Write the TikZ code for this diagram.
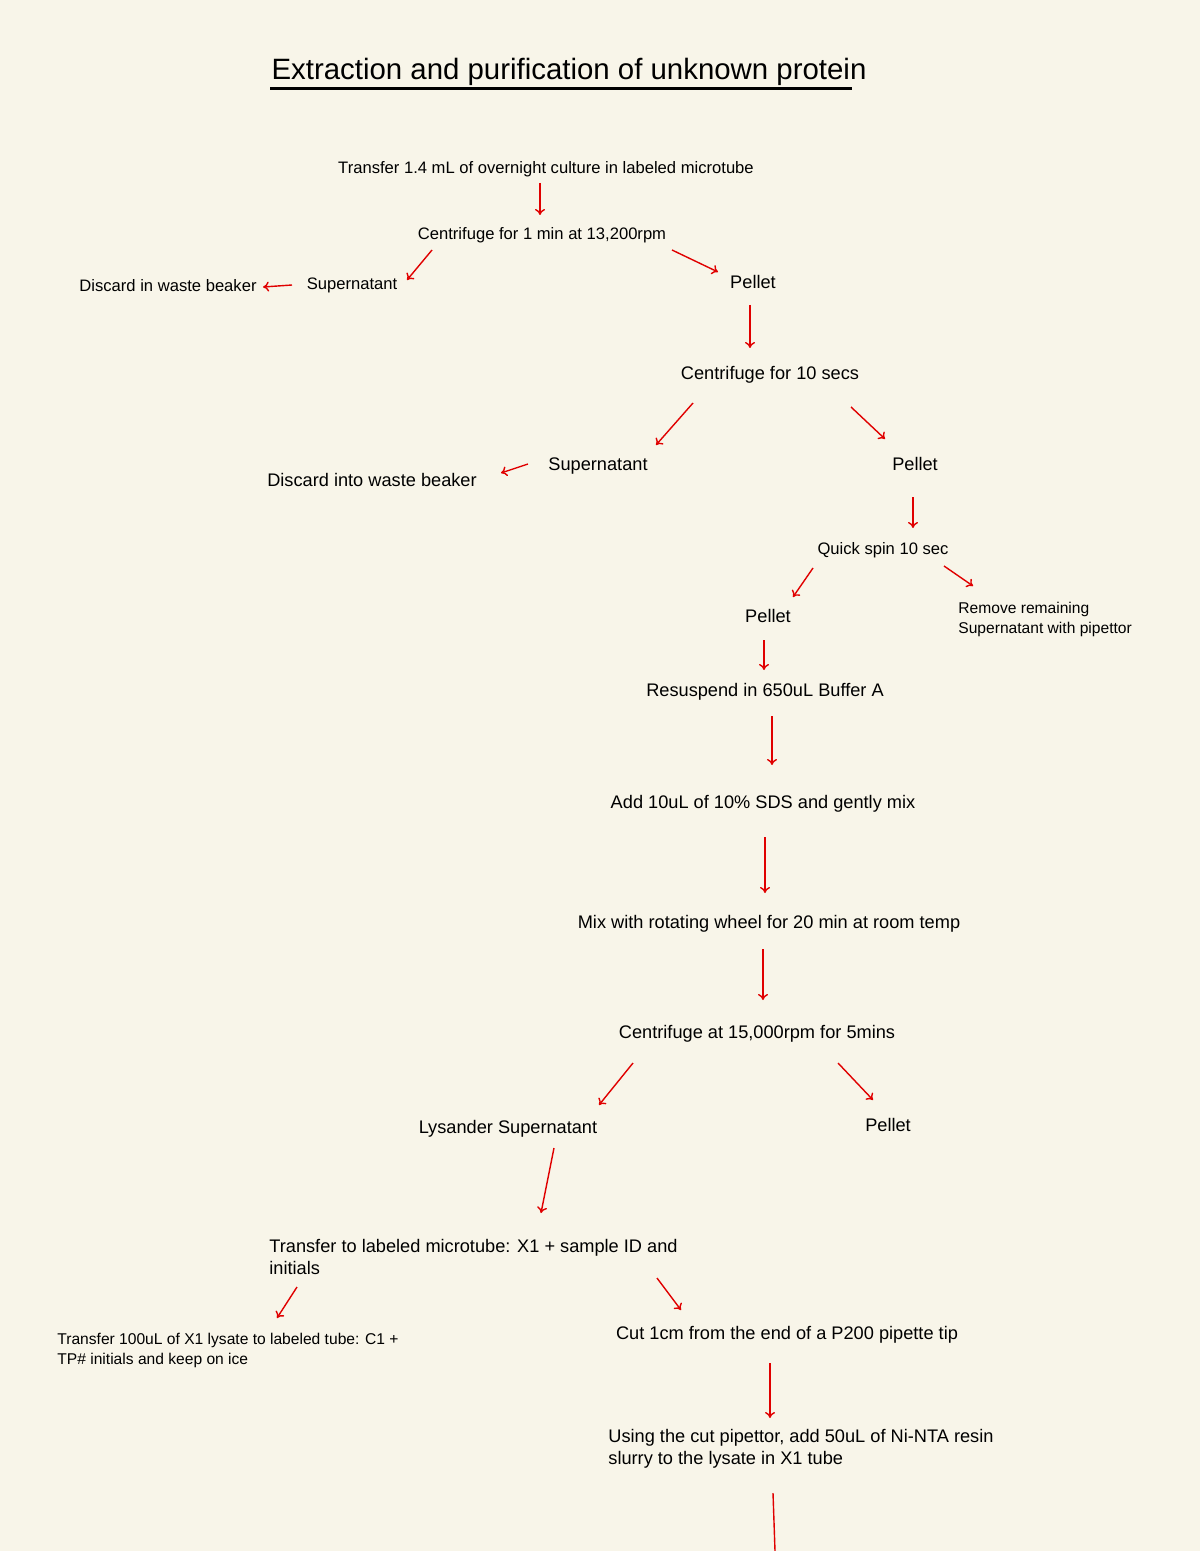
\documentclass[tikz,border=0pt]{standalone}
\usepackage{fontspec}
\setmainfont{Liberation Sans}
\usetikzlibrary{arrows.meta}
\definecolor{bg}{HTML}{F8F5E9}
\definecolor{arrred}{HTML}{E00000}
\tikzset{
  txta/.style={inner sep=0pt, font=\fontsize{8.3pt}{10.5pt}\selectfont},
  txtb/.style={inner sep=0pt, font=\fontsize{9.1pt}{10.8pt}\selectfont},
  txtc/.style={inner sep=0pt, font=\fontsize{7.8pt}{10pt}\selectfont},
  arr/.style={draw=arrred, line width=0.7pt, -{To[length=3pt,width=5pt]}},
  plain/.style={draw=arrred, line width=0.7pt}
}
\begin{document}
\begin{tikzpicture}[x=0.5pt,y=-0.5pt]
\fill[bg] (0,0) rectangle (1200,1551);
\useasboundingbox (0,0) rectangle (1200,1551);
% title
\node[inner sep=0pt, font=\fontsize{14.7pt}{17pt}\selectfont] (title) at (569,72) {Extraction and purification of unknown protein};
\draw[line width=1.5pt] (270,89) -- (852,89);
% nodes
\node[txta] (t1) at (546,169) {Transfer 1.4 mL of overnight culture in labeled microtube};
\node[txta] (c1) at (542,235) {Centrifuge for 1 min at 13,200rpm};
\node[txta] (s1) at (352,285) {Supernatant};
\node[txta] (d1) at (168,286) {Discard in waste beaker};
\node[txtb] (p1) at (753,282) {Pellet};
\node[txtb] (c2) at (770,375) {Centrifuge for 10 secs};
\node[txtb] (s2) at (598,466) {Supernatant};
\node[txtb] (d2) at (372,480) {Discard into waste beaker};
\node[txtb] (p2) at (915,464) {Pellet};
\node[txta] (q) at (883,550) {Quick spin 10 sec};
\node[txtb] (p3) at (768,616) {Pellet};
\node[txtc, align=left, anchor=west] (r) at (958,619) {Remove remaining\\Supernatant with pipettor};
\node[txtb] (rs) at (765,692) {Resuspend in 650uL Buffer A};
\node[txtb] (add) at (763,804) {Add 10uL of 10\% SDS and gently mix};
\node[txtb] (mix) at (769,924) {Mix with rotating wheel for 20 min at room temp};
\node[txtb] (c3) at (757,1034) {Centrifuge at 15,000rpm for 5mins};
\node[txtb] (lys) at (508,1129) {Lysander Supernatant};
\node[txtb] (p4) at (888,1125) {Pellet};
\node[txtb, align=left, anchor=west] (tr) at (269,1257) {Transfer to labeled microtube: X1 + sample ID and\\initials};
\node[txtc, align=left, anchor=west] (tr2) at (57,1350) {Transfer 100uL of X1 lysate to labeled tube: C1 +\\TP\# initials and keep on ice};
\node[txtb] (cut) at (787,1335) {Cut 1cm from the end of a P200 pipette tip};
\node[txtb, align=left, anchor=west] (use) at (608,1449) {Using the cut pipettor, add 50uL of Ni-NTA resin\\slurry to the lysate in X1 tube};
% arrow end coordinates
\coordinate (a1s) at (540,183); \coordinate (a1e) at (540,215);
\coordinate (a2s) at (432,250); \coordinate (a2e) at (407,280);
\coordinate (a3s) at (672,250); \coordinate (a3e) at (718,272);
\coordinate (a4s) at (292,285); \coordinate (a4e) at (263,287);
\coordinate (a5s) at (750,305); \coordinate (a5e) at (750,348);
\coordinate (a6s) at (693,403); \coordinate (a6e) at (656,445);
\coordinate (a7s) at (851,407); \coordinate (a7e) at (885,439);
\coordinate (a8s) at (528,464); \coordinate (a8e) at (501,473);
\coordinate (a9s) at (913,497); \coordinate (a9e) at (913,528);
\coordinate (a10s) at (813,568); \coordinate (a10e) at (793,597);
\coordinate (a11s) at (944,566); \coordinate (a11e) at (973,586);
\coordinate (a12s) at (764,640); \coordinate (a12e) at (764,670);
\coordinate (a13s) at (772,716); \coordinate (a13e) at (772,765);
\coordinate (a14s) at (765,837); \coordinate (a14e) at (765,893);
\coordinate (a15s) at (763,949); \coordinate (a15e) at (763,1000);
\coordinate (a16s) at (633,1063); \coordinate (a16e) at (599,1105);
\coordinate (a17s) at (838,1063); \coordinate (a17e) at (873,1100);
\coordinate (a18s) at (554,1148); \coordinate (a18e) at (541,1213);
\coordinate (a19s) at (297,1287); \coordinate (a19e) at (277,1318);
\coordinate (a20s) at (657,1278); \coordinate (a20e) at (681,1310);
\coordinate (a21s) at (770,1363); \coordinate (a21e) at (770,1418);
\coordinate (a22s) at (773,1493); \coordinate (a22e) at (775,1551);
% connectors
\foreach \i in {1,...,21} { \draw[arr] (a\i s) -- (a\i e); }
\draw[plain] (a22s) -- (a22e);
\end{tikzpicture}
\end{document}
